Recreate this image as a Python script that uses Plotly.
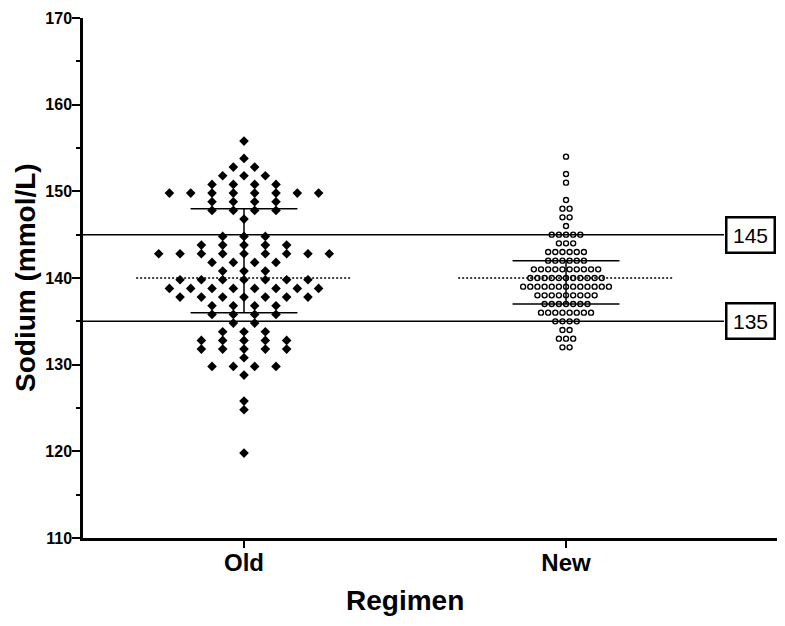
import numpy as np
import plotly.graph_objects as go

# ---------------- data ----------------
categories = ["Old", "New"]

old_levels = [155.8, 153.8, 152.8, 151.8, 150.8, 149.8, 148.8, 147.8, 146.8,
              144.8, 143.8, 142.8, 141.8, 140.8, 139.8, 138.8, 137.8, 136.8,
              135.8, 134.8, 133.8, 132.8, 131.8, 130.8, 129.8, 128.8, 125.8,
              124.8, 119.8]
old_counts = [1, 1, 2, 3, 4, 8, 4, 4, 1,
              3, 5, 9, 4, 3, 7, 8, 7, 4,
              4, 2, 3, 5, 5, 1, 4, 1, 1,
              1, 1]

new_levels = [154, 152, 151, 149, 148, 147, 146, 145, 144, 143, 142, 141,
              140, 139, 138, 137, 136, 135, 134, 133, 132]
new_counts = [1, 1, 1, 1, 2, 2, 1, 5, 3, 6, 6, 10,
              11, 13, 9, 7, 8, 4, 2, 3, 2]

center_line = [140, 140]     # dotted line per group
bar_low = [136, 137]         # lower error bar
bar_high = [148, 142]        # upper error bar
ref_lines = [145, 135]       # reference range
y_ticks = [110, 120, 130, 140, 150, 160, 170]
x_title = "Regimen"
y_title = "Sodium (mmol/L)"

# ---------------- helpers ----------------
pos = {"Old": 1.0, "New": 2.0}


def swarm(levels, counts, x0, step):
    xs, ys = [], []
    for v, n in zip(levels, counts):
        offs = (np.arange(n) - (n - 1) / 2.0) * step
        xs.extend(list(x0 + offs))
        ys.extend([v] * n)
    return xs, ys


old_x, old_y = swarm(old_levels, old_counts, pos["Old"], 0.0662)
new_x, new_y = swarm(new_levels, new_counts, pos["New"], 0.0222)

fig = go.Figure()

fig.add_trace(go.Scatter(
    x=old_x, y=old_y, mode="markers",
    marker=dict(symbol="diamond", size=7.4, color="black", line=dict(width=0)),
    showlegend=False, hoverinfo="y"))

fig.add_trace(go.Scatter(
    x=new_x, y=new_y, mode="markers",
    marker=dict(symbol="circle-open", size=5, color="black", line=dict(width=1.4)),
    showlegend=False, hoverinfo="y"))

# mean (dotted) lines and error bars
dot_half = 0.335
cap_half = 0.166
dx, dy, ex, ey = [], [], [], []
for i, c in enumerate(categories):
    x0 = pos[c]
    dx += [x0 - dot_half, x0 + dot_half, None]
    dy += [center_line[i], center_line[i], None]
    ex += [x0 - cap_half, x0 + cap_half, None,
           x0 - cap_half, x0 + cap_half, None,
           x0, x0, None]
    ey += [bar_high[i], bar_high[i], None,
           bar_low[i], bar_low[i], None,
           bar_low[i], bar_high[i], None]

fig.add_trace(go.Scatter(x=dx, y=dy, mode="lines",
                         line=dict(color="black", width=1.6, dash="2px,2px"),
                         showlegend=False, hoverinfo="skip"))
fig.add_trace(go.Scatter(x=ex, y=ey, mode="lines",
                         line=dict(color="black", width=1.5),
                         showlegend=False, hoverinfo="skip"))

# figure geometry (the page adds an 8px body margin)
W, H = 777, 618
ML, MT, MB, MR = 75, 10, 88, 0
PW, PH = W - ML - MR, H - MT - MB

# reference lines with boxed labels
box_left = (724 - 8 - ML) / PW
box_mid = (750 - 8 - ML) / PW
for v in ref_lines:
    fig.add_shape(type="line", xref="paper", yref="y",
                  x0=0, x1=box_left, y0=v, y1=v,
                  line=dict(color="black", width=1.5))
    fig.add_annotation(xref="paper", yref="y", x=box_mid, y=v,
                       text=str(v), showarrow=False,
                       font=dict(family="Arial, Liberation Sans", size=21, color="black"),
                       bordercolor="black", borderwidth=2.5, borderpad=2,
                       bgcolor="white", width=42, height=29,
                       xanchor="center", yanchor="middle")

# axis titles (x title centred under the two groups)
fig.add_annotation(xref="x", yref="paper", x=(pos["Old"] + pos["New"]) / 2,
                   y=-(600 - 8 - (H - MB)) / PH, text=x_title, showarrow=False,
                   font=dict(size=28, weight="bold"), xanchor="center", yanchor="middle")
fig.add_annotation(xref="paper", yref="paper", x=(25 - 8 - ML) / PW, y=0.5,
                   text=y_title, textangle=-90, showarrow=False,
                   font=dict(size=28, weight="bold"), xanchor="center", yanchor="middle")

fig.update_layout(
    width=W, height=H,
    margin=dict(l=ML, r=MR, t=MT, b=MB, autoexpand=False),
    paper_bgcolor="white", plot_bgcolor="white",
    font=dict(family="Arial, Liberation Sans", color="black"),
    xaxis=dict(
        range=[0.5, 2.68], tickvals=[pos[c] for c in categories],
        ticktext=categories, showgrid=False, zeroline=False, automargin=False,
        showline=True, linecolor="black", linewidth=2.5,
        ticks="outside", ticklen=7, tickwidth=2, tickcolor="black",
        tickfont=dict(size=24, weight="bold"), ticklabelstandoff=-6,
    ),
    yaxis=dict(
        range=[110, 170], tickvals=y_ticks, showgrid=False, zeroline=False, automargin=False,
        showline=True, linecolor="black", linewidth=2.5,
        ticks="outside", ticklen=8, tickwidth=2, tickcolor="black",
        tickfont=dict(size=16, weight="bold"), ticklabelstandoff=-3,
        minor=dict(dtick=5, ticks="outside", ticklen=4, tickwidth=2, tickcolor="black", showgrid=False),
    ),
)

fig.write_html("out.html")
